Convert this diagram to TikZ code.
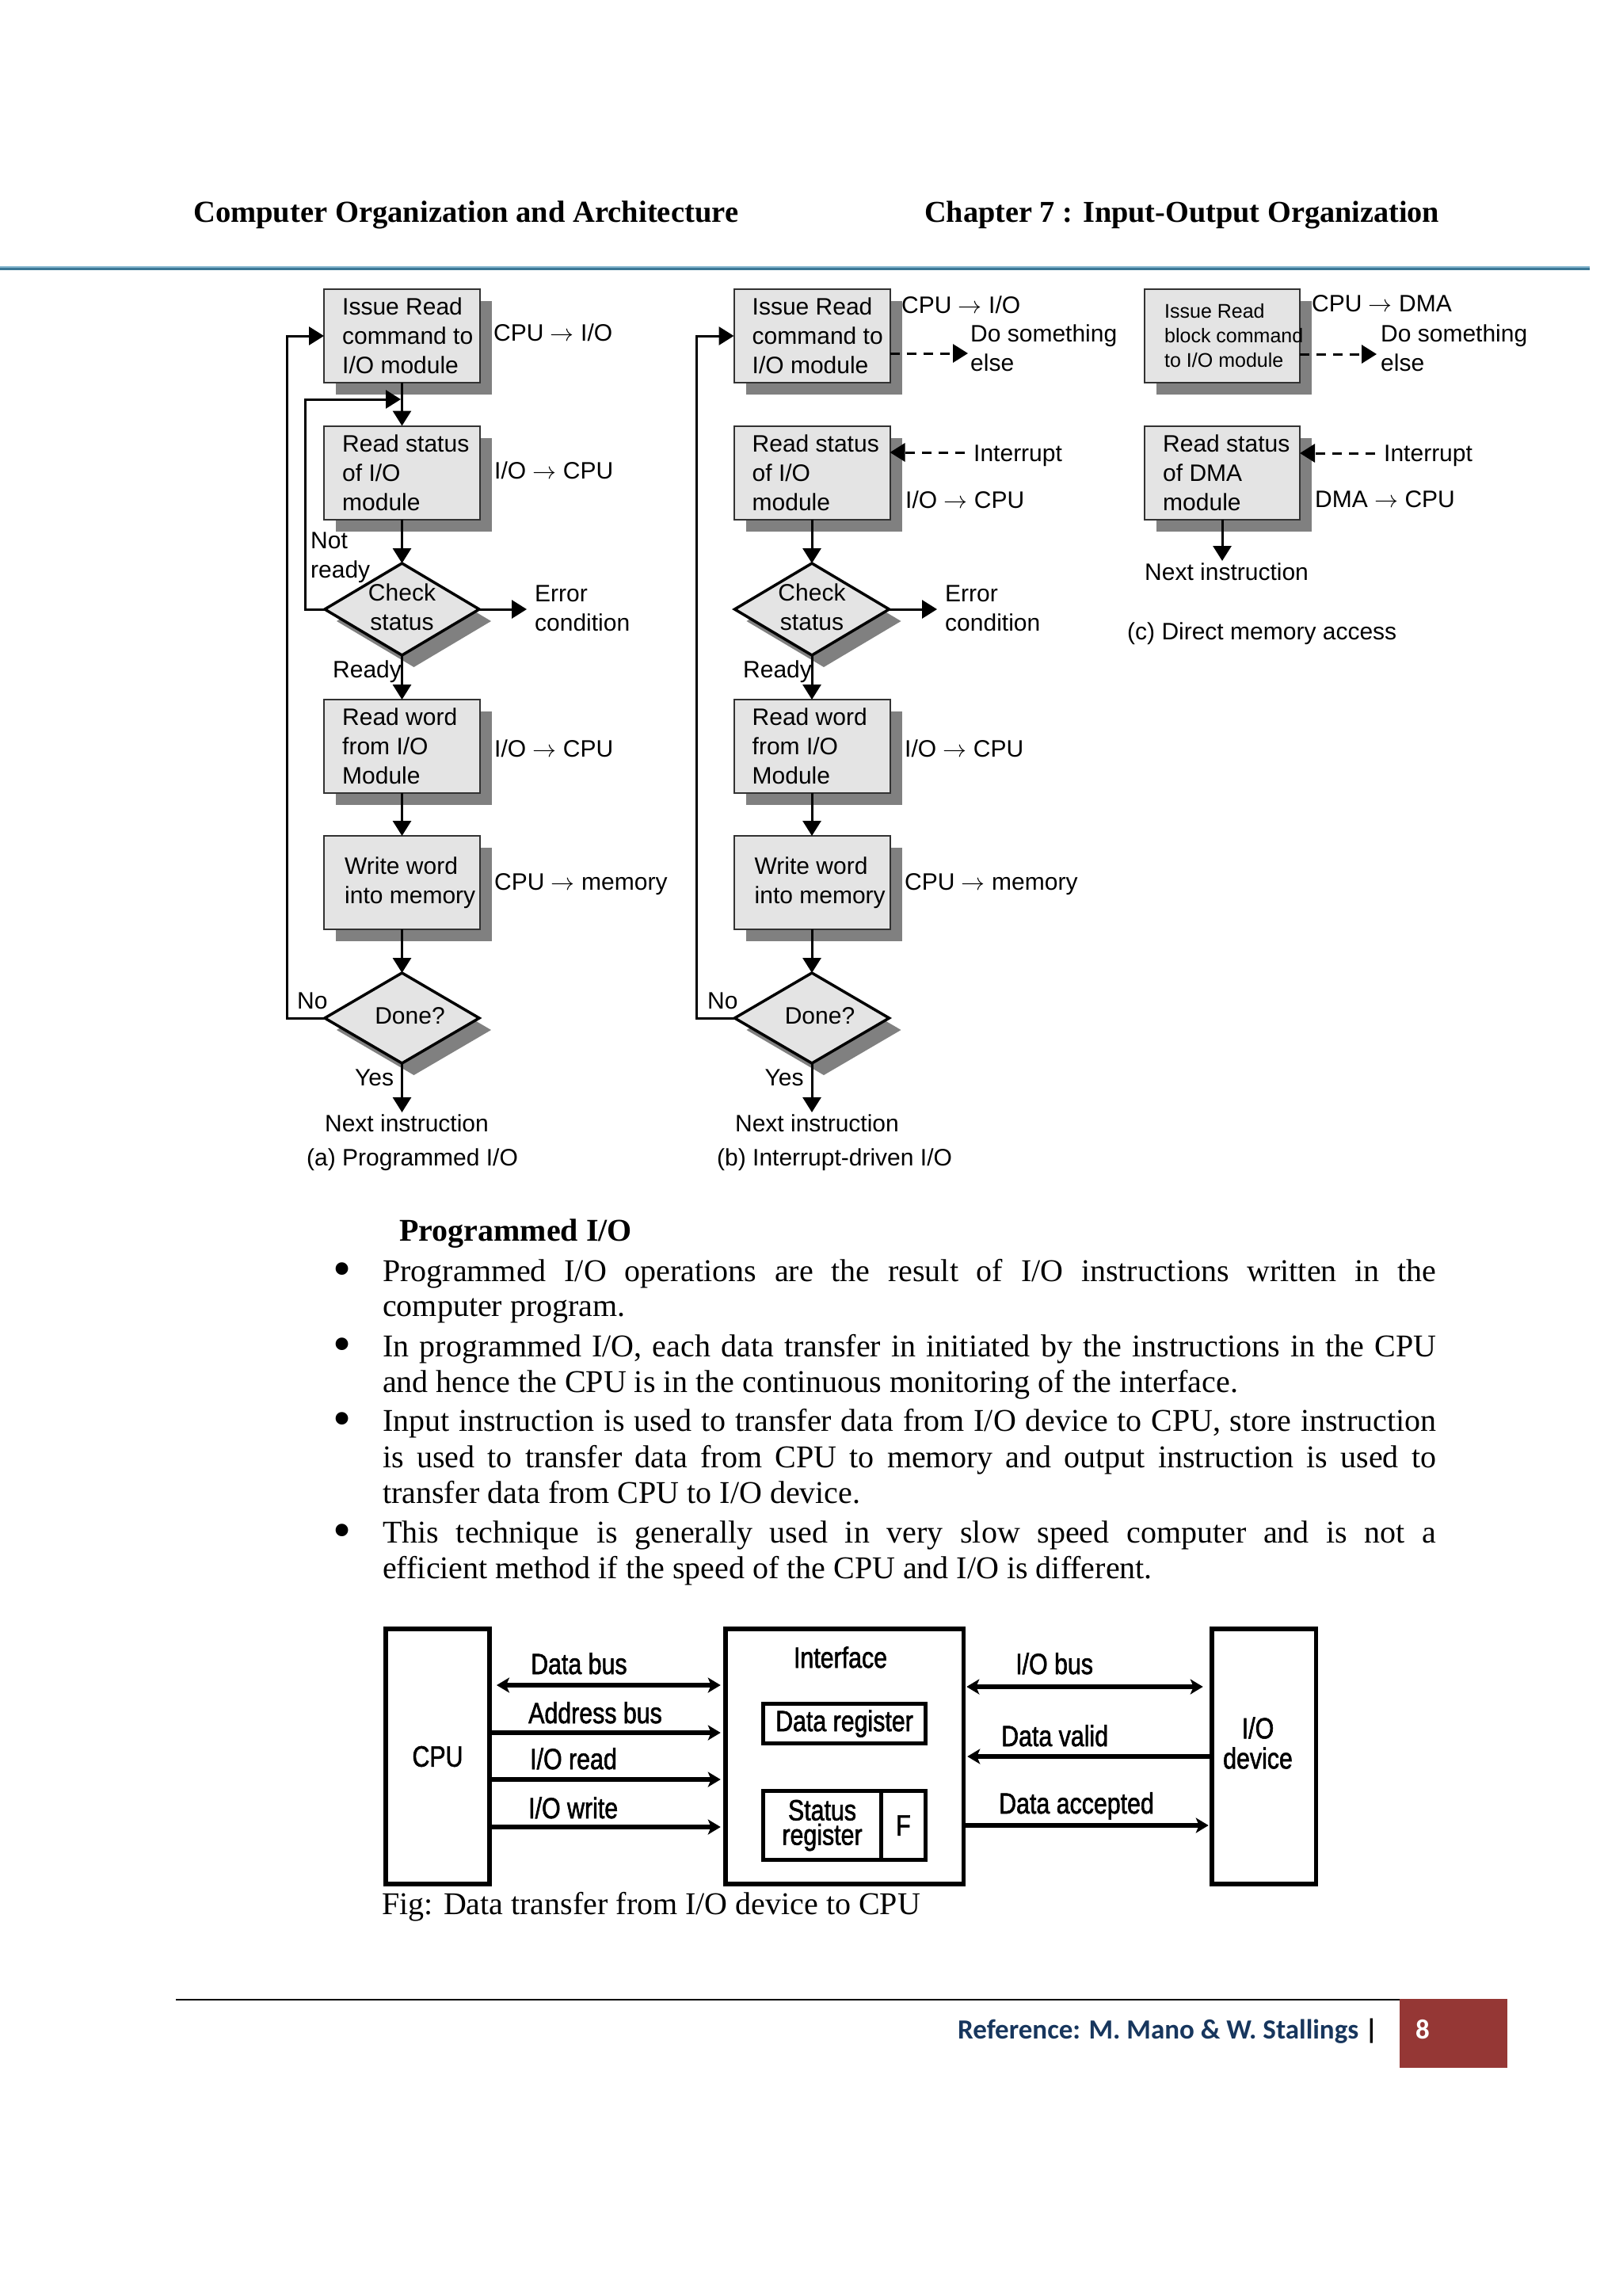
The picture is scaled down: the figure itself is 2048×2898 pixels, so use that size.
\RequirePackage{fix-cm}
\documentclass[tikz,border=0pt]{standalone}
\usepackage{fontspec}
\setmainfont{Liberation Serif}
\newfontfamily\arialf{Liberation Sans}
\newfontfamily\narrowf[FakeStretch=0.82,FakeBold=1.5]{Liberation Sans}
\newfontfamily\calibrif{Carlito}
\usetikzlibrary{arrows.meta,shapes.geometric,shadows,calc}
\definecolor{boxfill}{RGB}{228,228,228}
\definecolor{boxborder}{RGB}{50,50,50}
\definecolor{shadowgray}{RGB}{128,128,128}
\definecolor{headlight}{RGB}{130,180,205}
\definecolor{headdark}{RGB}{60,120,150}
\definecolor{navy}{RGB}{23,54,93}
\definecolor{pagered}{RGB}{149,55,53}
\begin{document}
\begin{tikzpicture}[x=1pt,y=-1pt,
  flowbox/.style={draw=boxborder, line width=2pt, fill=boxfill, minimum width=197pt, minimum height=118pt, inner sep=0pt, outer sep=0pt, drop shadow={shadow xshift=15pt,shadow yshift=-15pt,fill=shadowgray,opacity=1}},
  flowdia/.style={diamond, draw=black, line width=3.5pt, fill=boxfill, minimum width=195pt, minimum height=116pt, inner sep=0pt, outer sep=0pt, drop shadow={shadow xshift=15pt,shadow yshift=-15pt,fill=shadowgray,opacity=1}},
  ftext/.style={font=\arialf\fontsize{30}{37}\selectfont, inner sep=0pt, align=left},
  fsmall/.style={font=\arialf\fontsize{25}{31}\selectfont, inner sep=0pt, align=left},
  farrow/.style={line width=3pt, -{Triangle[length=19pt,width=23pt]}},
  fdash/.style={line width=3pt, dash pattern=on 12pt off 9pt, -{Triangle[length=19pt,width=23pt]}},
  hbox/.style={draw=black, line width=5.5pt, inner sep=0pt, outer sep=0pt, font=\narrowf\fontsize{37}{31}\selectfont, align=center},
  htext/.style={font=\narrowf\fontsize{37}{38}\selectfont, inner sep=0pt, anchor=base west},
  harrow/.style={line width=6pt, -{Stealth[length=16pt,width=19pt,inset=4pt]}},
  hdarrow/.style={line width=6pt, {Stealth[length=16pt,width=19pt,inset=4pt]}-{Stealth[length=16pt,width=19pt,inset=4pt]}},
  body/.style={font=\fontsize{40}{45.5}\selectfont, inner sep=0pt, anchor=base west},
  bul/.style={font=\fontsize{66}{66}\selectfont, inner sep=0pt, anchor=base west},
]
\useasboundingbox (0,0) rectangle (2048,2898);
\fill[white] (0,0) rectangle (2048,2898);

% ---------- header ----------
\node[font=\bfseries\fontsize{38.6}{42}\selectfont, inner sep=0pt, anchor=base west] (h1) at (244,280) {Computer Organization and Architecture};
\node[font=\bfseries\fontsize{38.3}{42}\selectfont, inner sep=0pt, anchor=base west] (h2) at (1167,280) {Chapter 7 : Input-Output Organization};
\draw[headlight, line width=2pt] (0,336.5) -- (2007,336.5);
\draw[headdark, line width=3pt] (0,339) -- (2007,339);

% ---------- flowchart (a) ----------
\node[flowbox] (a1) at (507.5,424) {};
\node[flowbox] (a2) at (507.5,596.5) {};
\node[flowdia] (ad1) at (507.5,769) {};
\node[flowbox] (a3) at (507.5,942) {};
\node[flowbox] (a4) at (507.5,1114) {};
\node[flowdia, minimum height=114pt] (ad2) at (507.5,1285) {};

\node[ftext, anchor=west] (a1t) at ([xshift=23pt]a1.west) {Issue Read\\command to\\I/O module};
\node[ftext, anchor=west] (a2t) at ([xshift=23pt]a2.west) {Read status\\of I/O\\module};
\node[ftext, anchor=west] (a3t) at ([xshift=23pt]a3.west) {Read word\\from I/O\\Module};
\node[ftext, anchor=west] (a4t) at ([xshift=26pt]a4.west) {Write word\\into memory};
\node[ftext, align=center] (ad1t) at (507.5,766) {Check\\status};
\node[ftext] (ad2t) at (517.5,1282) {Done?};

\node[ftext, anchor=base west] (a1l) at (623,430) {CPU $\rightarrow$ I/O};
\node[ftext, anchor=base west] (a2l) at (624,604) {I/O $\rightarrow$ CPU};
\node[ftext, anchor=base west] (a3l) at (624,955) {I/O $\rightarrow$ CPU};
\node[ftext, anchor=base west] (a4l) at (624,1123) {CPU $\rightarrow$ memory};
\node[ftext, anchor=west] (aerr) at (675,768) {Error\\condition};
\node[ftext, anchor=north west] (anr) at (392,671.5) {Not\\ready};
\node[ftext, anchor=base west] (ardy) at (420,855) {Ready};
\node[ftext, anchor=base west] (ano) at (375,1273) {No};
\node[ftext, anchor=base west] (ayes) at (448,1370) {Yes};
\node[ftext, anchor=north] (anext) at (513.5,1407) {Next instruction};
\node[ftext, anchor=base west] (acap) at (387,1471) {(a) Programmed I/O};

\draw[farrow] (a1.south) -- (a2.north);
\draw[farrow] (a2.south) -- (ad1.north);
\draw[farrow] (ad1.south) -- (a3.north);
\draw[farrow] (a3.south) -- (a4.north);
\draw[farrow] (a4.south) -- (ad2.north);
\draw[farrow, shorten >=3pt] (ad2.south) -- (ad2.south |- anext.north);
\draw[farrow, shorten >=10pt] (ad1.east) -- (ad1.east -| aerr.west);
\coordinate (aj) at (506,504);
\draw[farrow] (ad1.west) -- ++(-25,0) |- (aj);
\draw[farrow] (ad2.west) -- ++(-48,0) |- (a1.west);

% ---------- flowchart (b) ----------
\node[flowbox] (b1) at (1025,424) {};
\node[flowbox] (b2) at (1025,596.5) {};
\node[flowdia] (bd1) at (1025,769) {};
\node[flowbox] (b3) at (1025,942) {};
\node[flowbox] (b4) at (1025,1114) {};
\node[flowdia, minimum height=114pt] (bd2) at (1025,1285) {};

\node[ftext, anchor=west] (b1t) at ([xshift=23pt]b1.west) {Issue Read\\command to\\I/O module};
\node[ftext, anchor=west] (b2t) at ([xshift=23pt]b2.west) {Read status\\of I/O\\module};
\node[ftext, anchor=west] (b3t) at ([xshift=23pt]b3.west) {Read word\\from I/O\\Module};
\node[ftext, anchor=west] (b4t) at ([xshift=26pt]b4.west) {Write word\\into memory};
\node[ftext, align=center] (bd1t) at (1025,766) {Check\\status};
\node[ftext] (bd2t) at (1035,1282) {Done?};

\node[ftext, anchor=base west] (b1l) at (1138,395) {CPU $\rightarrow$ I/O};
\node[ftext, anchor=north west] (bdo) at (1225,410) {Do something\\else};
\node[ftext, anchor=base west] (bint) at (1229,582) {Interrupt};
\node[ftext, anchor=base west] (b2l) at (1143,641) {I/O $\rightarrow$ CPU};
\node[ftext, anchor=base west] (b3l) at (1142,955) {I/O $\rightarrow$ CPU};
\node[ftext, anchor=base west] (b4l) at (1142,1123) {CPU $\rightarrow$ memory};
\node[ftext, anchor=west] (berr) at (1193,768) {Error\\condition};
\node[ftext, anchor=base west] (brdy) at (938,855) {Ready};
\node[ftext, anchor=base west] (bno) at (893,1273) {No};
\node[ftext, anchor=base west] (byes) at (965.5,1370) {Yes};
\node[ftext, anchor=north] (bnext) at (1031.5,1407) {Next instruction};
\node[ftext, anchor=base west] (bcap) at (905,1471) {(b) Interrupt-driven I/O};

\coordinate (bdoE) at (1222,446);
\draw[fdash] (bdoE -| b1.east) -- (bdoE);
\coordinate (bintS) at (1218,571);
\draw[fdash] (bintS) -- (bintS -| b2.east);
\draw[farrow] (b2.south) -- (bd1.north);
\draw[farrow] (bd1.south) -- (b3.north);
\draw[farrow] (b3.south) -- (b4.north);
\draw[farrow] (b4.south) -- (bd2.north);
\draw[farrow, shorten >=3pt] (bd2.south) -- (bd2.south |- bnext.north);
\draw[farrow, shorten >=10pt] (bd1.east) -- (bd1.east -| berr.west);
\draw[farrow] (bd2.west) -- ++(-48,0) |- (b1.west);

% ---------- flowchart (c) ----------
\node[flowbox, minimum width=196pt] (c1) at (1543,424) {};
\node[flowbox, minimum width=196pt] (c2) at (1543,596.5) {};
\node[fsmall, anchor=west] (c1t) at ([xshift=25pt]c1.west) {Issue Read\\block command\\to I/O module};
\node[ftext, anchor=west] (c2t) at ([xshift=23pt]c2.west) {Read status\\of DMA\\module};
\node[ftext, anchor=base west] (c1l) at (1656,393) {CPU $\rightarrow$ DMA};
\node[ftext, anchor=north west] (cdo) at (1743,410) {Do something\\else};
\node[ftext, anchor=base west] (cint) at (1747,582) {Interrupt};
\node[ftext, anchor=base west] (c2l) at (1660,640) {DMA $\rightarrow$ CPU};
\node[ftext, anchor=north west] (cnext) at (1445,710.5) {Next instruction};
\node[ftext, anchor=base west] (ccap) at (1423,807) {(c) Direct memory access};

\coordinate (cdoE) at (1738,447);
\draw[fdash] (cdoE -| c1.east) -- (cdoE);
\coordinate (cintS) at (1736,572);
\draw[fdash] (cintS) -- (cintS -| c2.east);
\draw[farrow, shorten >=2.5pt] (c2.south) -- (c2.south |- cnext.north);

% ---------- text ----------
\node[body, font=\bfseries\fontsize{40}{45.5}\selectfont] (th) at (504,1566) {Programmed I/O};
\node[bul] (bu1) at (420,1623) {\textbullet};
\node[body] (p1a) at (483,1617) {\makebox[1330pt][s]{Programmed I/O operations are the result of I/O instructions written in the}};
\node[body] (p1b) at (483,1661) {computer program.};
\node[bul] (bu2) at (420,1718) {\textbullet};
\node[body] (p2a) at (483,1712) {\makebox[1330pt][s]{In programmed I/O, each data transfer in initiated by the instructions in the CPU}};
\node[body] (p2b) at (483,1757) {and hence the CPU is in the continuous monitoring of the interface.};
\node[bul] (bu3) at (420,1812) {\textbullet};
\node[body] (p3a) at (483,1806) {\makebox[1330pt][s]{Input instruction is used to transfer data from I/O device to CPU, store instruction}};
\node[body] (p3b) at (483,1852) {\makebox[1330pt][s]{is used to transfer data from CPU to memory and output instruction is used to}};
\node[body] (p3c) at (483,1897) {transfer data from CPU to I/O device.};
\node[bul] (bu4) at (420,1953) {\textbullet};
\node[body] (p4a) at (483,1947) {\makebox[1330pt][s]{This technique is generally used in very slow speed computer and is not a}};
\node[body] (p4b) at (483,1992) {efficient method if the speed of the CPU and I/O is different.};

% ---------- data transfer figure ----------
\node[hbox, minimum width=131pt, minimum height=322pt] (cpu) at (552.5,2217) {CPU};
\node[hbox, minimum width=300.5pt, minimum height=322pt] (iface) at (1066,2217) {};
\node[hbox, minimum width=131.5pt, minimum height=322pt] (iodev) at (1595.5,2217) {};
\node[htext, anchor=center, align=center] (iodevl) at (1588,2200) {I/O\\device};
\node[htext, anchor=base] (ifl) at (1061,2105) {Interface};
\node[hbox, line width=5pt, minimum width=205pt, minimum height=50pt] (dreg) at (1066,2175.5) {Data register};
\node[hbox, line width=5pt, minimum width=149pt, minimum height=87pt] (sreg) at (1038,2304) {Status\\register};
\node[hbox, line width=5pt, minimum width=56pt, minimum height=87pt, anchor=west] (freg) at (sreg.east) {F};

\coordinate (ydb) at (0,2127);
\coordinate (yab) at (0,2187);
\coordinate (yrd) at (0,2246);
\coordinate (ywr) at (0,2306);
\coordinate (yiob) at (0,2129);
\coordinate (ydv) at (0,2217);
\coordinate (yda) at (0,2304);
\draw[hdarrow] ($(cpu.east|-ydb)+(9,0)$) -- ($(iface.west|-ydb)+(-6,0)$);
\draw[harrow] ($(cpu.east|-yab)+(2.75,0)$) -- ($(iface.west|-yab)+(-6,0)$);
\draw[harrow] ($(cpu.east|-yrd)+(2.75,0)$) -- ($(iface.west|-yrd)+(-6,0)$);
\draw[harrow] ($(cpu.east|-ywr)+(2.75,0)$) -- ($(iface.west|-ywr)+(-6,0)$);
\draw[hdarrow] ($(iface.east|-yiob)+(4,0)$) -- ($(iodev.west|-yiob)+(-11,0)$);
\draw[harrow] ($(iodev.west|-ydv)+(-2.75,0)$) -- ($(iface.east|-ydv)+(5,0)$);
\draw[harrow] ($(iface.east|-yda)+(2.75,0)$) -- ($(iodev.west|-yda)+(-4,0)$);

\node[htext] (ldb) at (670,2113) {Data bus};
\node[htext] (lab) at (667,2175) {Address bus};
\node[htext] (lrd) at (669,2233) {I/O read};
\node[htext] (lwr) at (667,2295) {I/O write};
\node[htext] (liob) at (1282,2113) {I/O bus};
\node[htext] (ldv) at (1264,2204) {Data valid};
\node[htext] (lda) at (1261,2289) {Data accepted};
\node[body] (figcap) at (482,2416) {Fig: Data transfer from I/O device to CPU};

% ---------- footer ----------
\draw[black, line width=2pt] (222,2524) -- (1767,2524);
\fill[pagered] (1767,2523) rectangle (1903,2610);
\node[font=\calibrif\bfseries\fontsize{35}{40}\selectfont, text=white, inner sep=0pt, anchor=base west] (pg) at (1787,2573) {8};
\node[font=\calibrif\bfseries\fontsize{35}{40}\selectfont, inner sep=0pt, anchor=base east] (fref) at (1740,2573) {\textcolor{navy}{Reference: M. Mano \& W. Stallings} |};
\end{tikzpicture}
\end{document}
